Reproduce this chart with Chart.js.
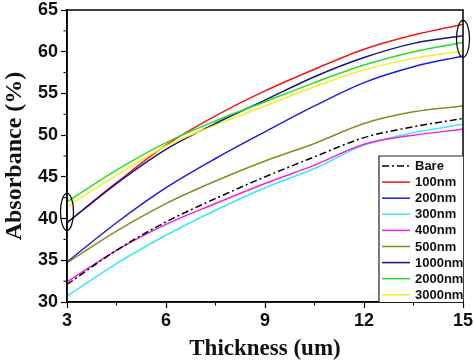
<!DOCTYPE html>
<html>
<head>
<meta charset="utf-8">
<script src="https://cdn.jsdelivr.net/npm/chart.js@4.4.1/dist/chart.umd.min.js"></script>
<style>
html,body{margin:0;padding:0;background:#fff;}
#wrap{width:474px;height:363px;position:relative;}
</style>
</head>
<body>
<div id="wrap"><canvas id="c" width="474" height="363"></canvas></div>
<script>
// ---- data ----
const thickness = [3, 4.5, 6, 7.5, 9, 10.5, 12, 13.5, 15];
const seriesLabels = ['Bare', '100nm', '200nm', '300nm', '400nm', '500nm', '1000nm', '2000nm', '3000nm'];
const bare    = [32.1, 36.2, 39.6, 42.4, 45.0, 47.4, 49.7, 51.0, 52.0];
const nm100   = [39.5, 44.3, 48.8, 52.3, 55.3, 57.9, 60.3, 62.0, 63.3];
const nm200   = [34.8, 39.5, 43.7, 47.2, 50.4, 53.5, 56.3, 58.2, 59.5];
const nm300   = [30.7, 34.6, 38.0, 41.0, 43.7, 46.0, 48.8, 50.3, 51.3];
const nm400   = [32.4, 36.2, 39.3, 41.8, 44.2, 46.4, 48.9, 50.0, 50.7];
const nm500   = [34.7, 38.5, 41.8, 44.5, 46.9, 49.0, 51.4, 52.8, 53.5];
const nm1000  = [39.5, 44.2, 48.3, 51.4, 54.2, 57.0, 59.3, 61.0, 61.9];
const nm2000  = [42.0, 45.8, 49.1, 51.7, 54.0, 56.3, 58.4, 60.0, 61.1];
const nm3000  = [41.4, 45.2, 48.7, 51.2, 53.5, 55.8, 57.8, 59.2, 60.1];
const xTicks = [3, 6, 9, 12, 15];
const yTicks = [30, 35, 40, 45, 50, 55, 60, 65];
// ellipse annotations (data coordinates)
const ellipseCenters = [{x: 3, y: 40.8}, {x: 15, y: 61.55}];

const allValues = [bare, nm100, nm200, nm300, nm400, nm500, nm1000, nm2000, nm3000];
const colors = ['#000000', '#f0161a', '#1c1ce0', '#3ce8ee', '#ee22e6', '#8a8a1e', '#14147e', '#28dc28', '#f4f020'];

const datasets = allValues.map((vals, i) => ({
  label: seriesLabels[i],
  data: vals.map((v, j) => ({x: thickness[j], y: v})),
  borderColor: colors[i],
  backgroundColor: colors[i],
  borderWidth: 1.5,
  borderDash: i === 0 ? [7, 3, 2, 3] : [],
  pointRadius: 0,
  cubicInterpolationMode: 'monotone',
  fill: false
}));
datasets.forEach((d, i) => d.order = i === 0 ? 0 : 10 - i);

const decor = {
  id: 'decor',
  afterDatasetsDraw(chart) {
    const ctx = chart.ctx;
    const xs = chart.scales.x, ys = chart.scales.y;
    const a = chart.chartArea;
    ctx.save();
    ctx.strokeStyle = '#000';
    ctx.lineWidth = 1.5;
    ctx.strokeRect(a.left, a.top, a.right - a.left, a.bottom - a.top);
    ctx.lineWidth = 1;
    for (let i = 0; i < xTicks.length - 1; i++) {
      const px = xs.getPixelForValue((xTicks[i] + xTicks[i + 1]) / 2);
      ctx.beginPath(); ctx.moveTo(px, a.bottom); ctx.lineTo(px, a.bottom + 3.5); ctx.stroke();
    }
    for (let i = 0; i < yTicks.length - 1; i++) {
      const py = ys.getPixelForValue((yTicks[i] + yTicks[i + 1]) / 2);
      ctx.beginPath(); ctx.moveTo(a.left, py); ctx.lineTo(a.left - 3.5, py); ctx.stroke();
    }
    ctx.lineWidth = 1.2;
    ellipseCenters.forEach(e => {
      ctx.beginPath();
      ctx.ellipse(xs.getPixelForValue(e.x), ys.getPixelForValue(e.y), 6.5, 18.5, 0, 0, Math.PI * 2);
      ctx.stroke();
    });
    const lx = a.right - 84, ly = a.bottom - 146;
    ctx.fillStyle = '#fff';
    ctx.fillRect(lx, ly, a.right - lx, a.bottom - ly);
    ctx.lineWidth = 1.2;
    ctx.strokeStyle = '#222';
    ctx.beginPath();
    ctx.moveTo(lx, a.bottom); ctx.lineTo(lx, ly); ctx.lineTo(a.right, ly);
    ctx.stroke();
    ctx.font = 'bold 13px "Liberation Sans", Arial, sans-serif';
    ctx.textBaseline = 'middle';
    chart.data.datasets.forEach((d, i) => {
      const y = ly + 10 + i * 16.1;
      ctx.strokeStyle = d.borderColor;
      ctx.lineWidth = 1.5;
      ctx.setLineDash(d.borderDash || []);
      ctx.beginPath(); ctx.moveTo(lx + 3, y); ctx.lineTo(lx + 31, y); ctx.stroke();
      ctx.setLineDash([]);
      ctx.fillStyle = '#111';
      ctx.fillText(d.label, lx + 36, y + 0.5);
    });
    ctx.restore();
  }
};

new Chart(document.getElementById('c'), {
  type: 'line',
  data: { datasets },
  plugins: [decor],
  options: {
    responsive: false,
    animation: false,
    devicePixelRatio: 1,
    layout: { padding: { top: 10, right: 11, left: 0, bottom: 0 } },
    plugins: { legend: { display: false }, tooltip: { enabled: false } },
    scales: {
      x: {
        type: 'linear', min: 3, max: 15,
        afterBuildTicks: s => { s.ticks = xTicks.map(v => ({value: v})); },
        ticks: { color: '#111', font: { family: '"Liberation Sans", Arial, sans-serif', size: 18, weight: 'bold' }, padding: 2, maxRotation: 0 },
        grid: { drawOnChartArea: false, drawTicks: true, tickLength: 6, tickColor: '#000', tickWidth: 1.2, color: '#000' },
        border: { display: true, color: '#000', width: 1.5 },
        title: { display: true, text: 'Thickness (um)', color: '#111', font: { family: '"Liberation Serif", "Times New Roman", serif', size: 23, weight: 'bold' }, padding: { top: 4, bottom: 0 } },
        afterFit: s => { s.height = 61; s.paddingRight = 0; s.paddingLeft = 0; }
      },
      y: {
        type: 'linear', min: 30, max: 65,
        afterBuildTicks: s => { s.ticks = yTicks.map(v => ({value: v})); },
        ticks: { color: '#111', font: { family: '"Liberation Sans", Arial, sans-serif', size: 18, weight: 'bold' }, padding: 3 },
        grid: { drawOnChartArea: false, drawTicks: true, tickLength: 6, tickColor: '#000', tickWidth: 1.2, color: '#000' },
        border: { display: true, color: '#000', width: 1.5 },
        title: { display: true, text: 'Absorbance (%)', color: '#111', font: { family: '"Liberation Serif", "Times New Roman", serif', size: 24, weight: 'bold' }, padding: { top: 0, bottom: 4 } },
        afterFit: s => { s.width = 67; s.paddingTop = 0; s.paddingBottom = 0; }
      }
    }
  }
});
</script>
</body>
</html>
